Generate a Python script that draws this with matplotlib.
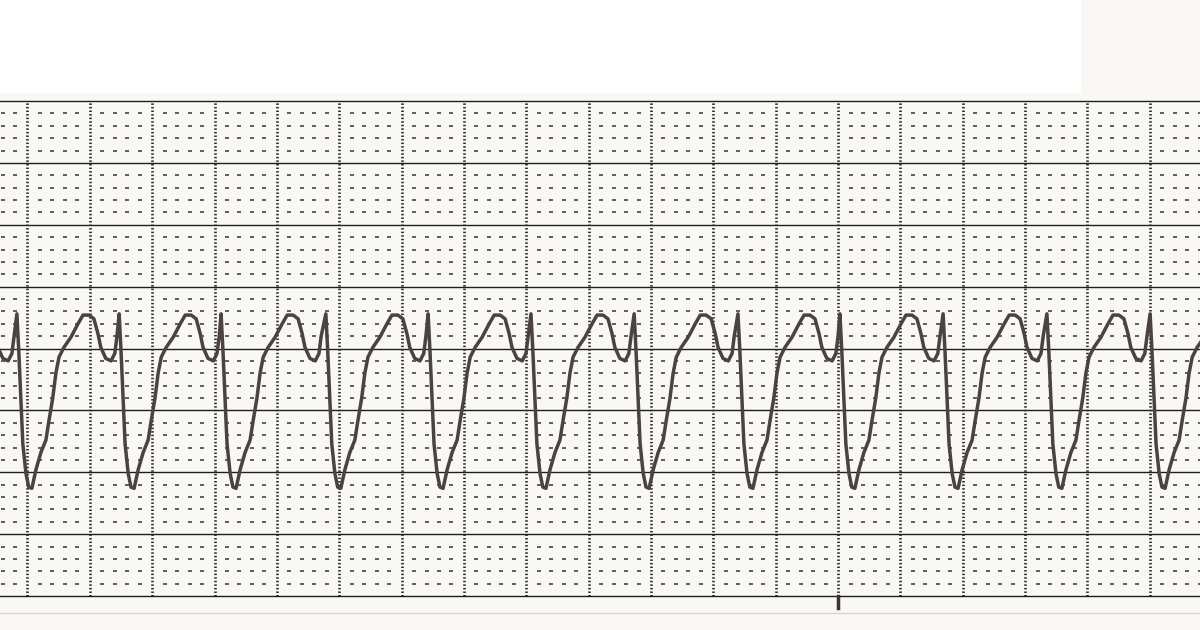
import numpy as np
import matplotlib
matplotlib.use("Agg")
import matplotlib.pyplot as plt
from matplotlib.patches import Rectangle
import matplotlib.transforms as mtransforms

# one beat: time after the sharp spike (ms) and amplitude (mV)
beat_offset_ms = [0, 6, 13, 19, 29, 38, 48, 61, 77, 93, 103, 115, 125, 135,
                  151, 173, 196, 212, 231, 247, 260, 269, 285, 302, 314, 321]
beat_mv = [0.28, -0.02, -0.42, -0.77, -1.01, -1.12, -1.13, -0.98, -0.84, -0.74,
           -0.58, -0.40, -0.20, -0.07, 0.01, 0.09, 0.20, 0.27, 0.27, 0.24,
           0.12, 0.01, -0.08, -0.10, -0.04, 0.10]

# spike time of every beat on the strip (ms)
beat_times_ms = [-364, -34, 294, 621, 957, 1285, 1615, 1946, 2279, 2606,
                 2937, 3270, 3601]

# timing mark under the strip (s)
marker_time = 2.6

PAPER = "#f9f8f4"
INK = "#4a433e"

# build the trace from the beat template
t_all, v_all = [], []
for start in beat_times_ms:
    for dt, mv in zip(beat_offset_ms, beat_mv):
        t_all.append((start + dt) / 1000.0)
        v_all.append(mv)
t_all = np.array(t_all)
v_all = np.array(v_all)

fig = plt.figure(figsize=(12, 6.3), dpi=100, facecolor=PAPER)

# white label area above the strip
fig.patches.append(Rectangle((0, 1 - 93 / 630), 1081 / 1200, 93 / 630,
                             transform=fig.transFigure, facecolor="white",
                             edgecolor="none", zorder=0))
# paper edge line below the strip
fig.add_artist(plt.Line2D([0, 1], [17 / 630, 17 / 630], transform=fig.transFigure,
                          color="#d6d4cf", lw=1.0))

ax = fig.add_axes([0, 34 / 630, 1, 495 / 630])
ax.set_facecolor(PAPER)
px_per_s = 311.75
ax.set_xlim(-27.5 / px_per_s, (1200 - 27.5) / px_per_s)
ax.set_ylim(-2.0, 2.0)
for s in ax.spines.values():
    s.set_visible(False)
ax.set_xticks([])
ax.set_yticks([])

# small dashes at the minor grid crossings (0.04 s x 0.1 mV)
mx = [i * 0.04 for i in range(-2, 95) if i % 5 != 0]
my = [j * 0.1 for j in range(-19, 20) if j % 5 != 0]
gx, gy = np.meshgrid(mx, my)
ax.plot(gx.ravel(), gy.ravel(), linestyle="none", marker="_", markersize=3.0,
        markeredgewidth=1.2, color="#444444", zorder=1)

# major grid: solid rows every 0.5 mV, dotted columns every 0.2 s
for j in range(-4, 5):
    ax.axhline(j * 0.5, color="#1e1e1e", lw=1.0, zorder=2, clip_on=False)
for k in range(0, 19):
    ax.axvline(k * 0.2, color="#262626", lw=1.9, linestyle=(0, (0.55, 0.8)),
               zorder=2)

# the ECG trace
ax.plot(t_all, v_all, color=INK, lw=2.5, solid_joinstyle="round",
        solid_capstyle="round", zorder=5)

# timing mark
trans = mtransforms.blended_transform_factory(ax.transData, ax.transAxes)
ax.plot([marker_time, marker_time], [0, -0.024], transform=trans, color="#3a3430",
        lw=2.5, clip_on=False, zorder=5)

fig.savefig("out.png", dpi=100, facecolor=PAPER)
plt.close(fig)
